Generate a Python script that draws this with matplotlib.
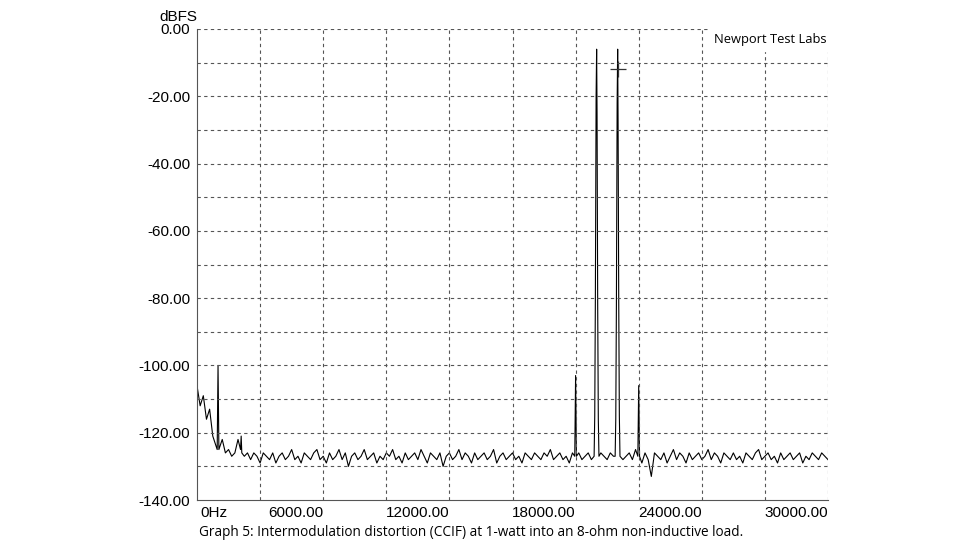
import numpy as np
import matplotlib.pyplot as plt

# noise floor, read at 150 Hz steps from 0 to 30000 Hz
noise_step = 150
noise_db = [
    -106, -112, -109, -116, -113, -121, -119, -124, -122, -126,
    -125, -127, -126, -122, -126, -127, -126, -128, -126, -127,
    -129, -126, -127, -128, -126, -129, -127, -126, -128, -127,
    -125, -128, -127, -129, -126, -127, -128, -126, -125, -128,
    -127, -129, -126, -128, -127, -125, -128, -126, -130, -127,
    -126, -128, -127, -125, -128, -127, -126, -129, -127, -128,
    -126, -127, -125, -128, -127, -129, -126, -128, -127, -126,
    -128, -125, -127, -129, -126, -127, -128, -126, -130, -127,
    -126, -128, -127, -125, -128, -126, -127, -129, -126, -128,
    -127, -126, -128, -127, -125, -129, -127, -126, -128, -127,
    -126, -128, -127, -129, -126, -127, -128, -126, -127, -128,
    -126, -127, -125, -128, -127, -126, -128, -127, -129, -126,
    -127, -126, -128, -127, -126, -128, -127, -130, -126, -127,
    -128, -126, -127, -129, -126, -128, -127, -126, -128, -125,
    -127, -129, -126, -128, -133, -126, -127, -128, -126, -129,
    -127, -125, -128, -126, -127, -129, -126, -128, -127, -126,
    -128, -127, -125, -128, -126, -127, -129, -126, -127, -128,
    -126, -128, -127, -129, -126, -127, -128, -126, -125, -128,
    -127, -126, -128, -127, -129, -126, -128, -127, -126, -128,
    -127, -126, -129, -127, -128, -126, -127, -128, -126, -127,
    -128,
]

# discrete tones (frequency Hz, shape points)
tone_f = [1000, 2100, 18000, 19000, 20000, 21000]
tone_pts = {
    1000: [(960, -125), (1000, -100), (1040, -125)],
    2100: [(2070, -125), (2100, -121), (2130, -126)],
    18000: [(17960, -127), (18000, -103), (18040, -127)],
    19000: [(18880, -127), (18910, -115), (18940, -80), (18975, -20), (19000, -6),
            (19020, -25), (19050, -82), (19080, -116), (19110, -127)],
    20000: [(19880, -127), (19910, -116), (19940, -82), (19975, -22), (20000, -6),
            (20020, -28), (20050, -80), (20080, -115), (20110, -127)],
    21000: [(20960, -127), (21000, -106), (21040, -127)],
}
cursor = (20000, -12)

freq = [i * noise_step for i in range(len(noise_db))]
pts = [(f, d) for f, d in zip(freq, noise_db) if all(abs(f - t) > 130 for t in tone_f)]
for t in tone_f:
    pts += tone_pts[t]
pts.sort()
x = np.array([p[0] for p in pts])
y = np.array([p[1] for p in pts])

fig = plt.figure(figsize=(9.7, 5.46), dpi=100)
ax = fig.add_axes([197 / 970, 46 / 546, 631 / 970, 471 / 546])
ax.plot(x, y, color='black', lw=0.8)
ax.plot(*cursor, marker='+', color='#333333', ms=12, mew=0.9)

ax.set_xlim(0, 30000)
ax.set_ylim(-140, 0)
for v in range(3000, 30001, 3000):
    ax.axvline(v, color='#555555', ls=(0, (3, 3)), lw=0.8)
for v in range(-130, 1, 10):
    ax.axhline(v, color='#555555', ls=(0, (3, 3)), lw=0.8)
for s in ['top', 'right']:
    ax.spines[s].set_visible(False)
ax.spines['left'].set_color('#555555')
ax.spines['bottom'].set_color('#555555')

ax.set_yticks(range(-140, 1, 20))
ax.set_yticklabels([f'{v:.2f}' for v in range(-140, 1, 20)],
                   fontfamily='Liberation Sans', fontsize=11)
ax.set_xticks([])
ax.tick_params(axis='y', length=0, pad=5)
lab_kw = dict(transform=ax.get_xaxis_transform(), va='top', fontsize=11, fontfamily='Liberation Sans')
ax.text(150, -0.012, '0Hz', ha='left', **lab_kw)
for v in range(6000, 30001, 6000):
    ax.text(v, -0.012, f'{v:.2f}', ha='right', **lab_kw)

ax.text(0, 1.01, 'dBFS', transform=ax.transAxes, ha='right', va='bottom',
        fontsize=11, fontfamily='Liberation Sans')
ax.text(0.998, 0.992, 'Newport Test Labs', transform=ax.transAxes, ha='right', va='top',
        fontsize=9.3, fontfamily='Open Sans', backgroundcolor='white')
fig.text(199 / 970, 1 - 533 / 546, 'Graph 5: Intermodulation distortion (CCIF) at 1-watt into an 8-ohm non-inductive load.',
         ha='left', va='center', fontsize=9.8, fontfamily='Open Sans')

fig.savefig('out.png', dpi=100)
